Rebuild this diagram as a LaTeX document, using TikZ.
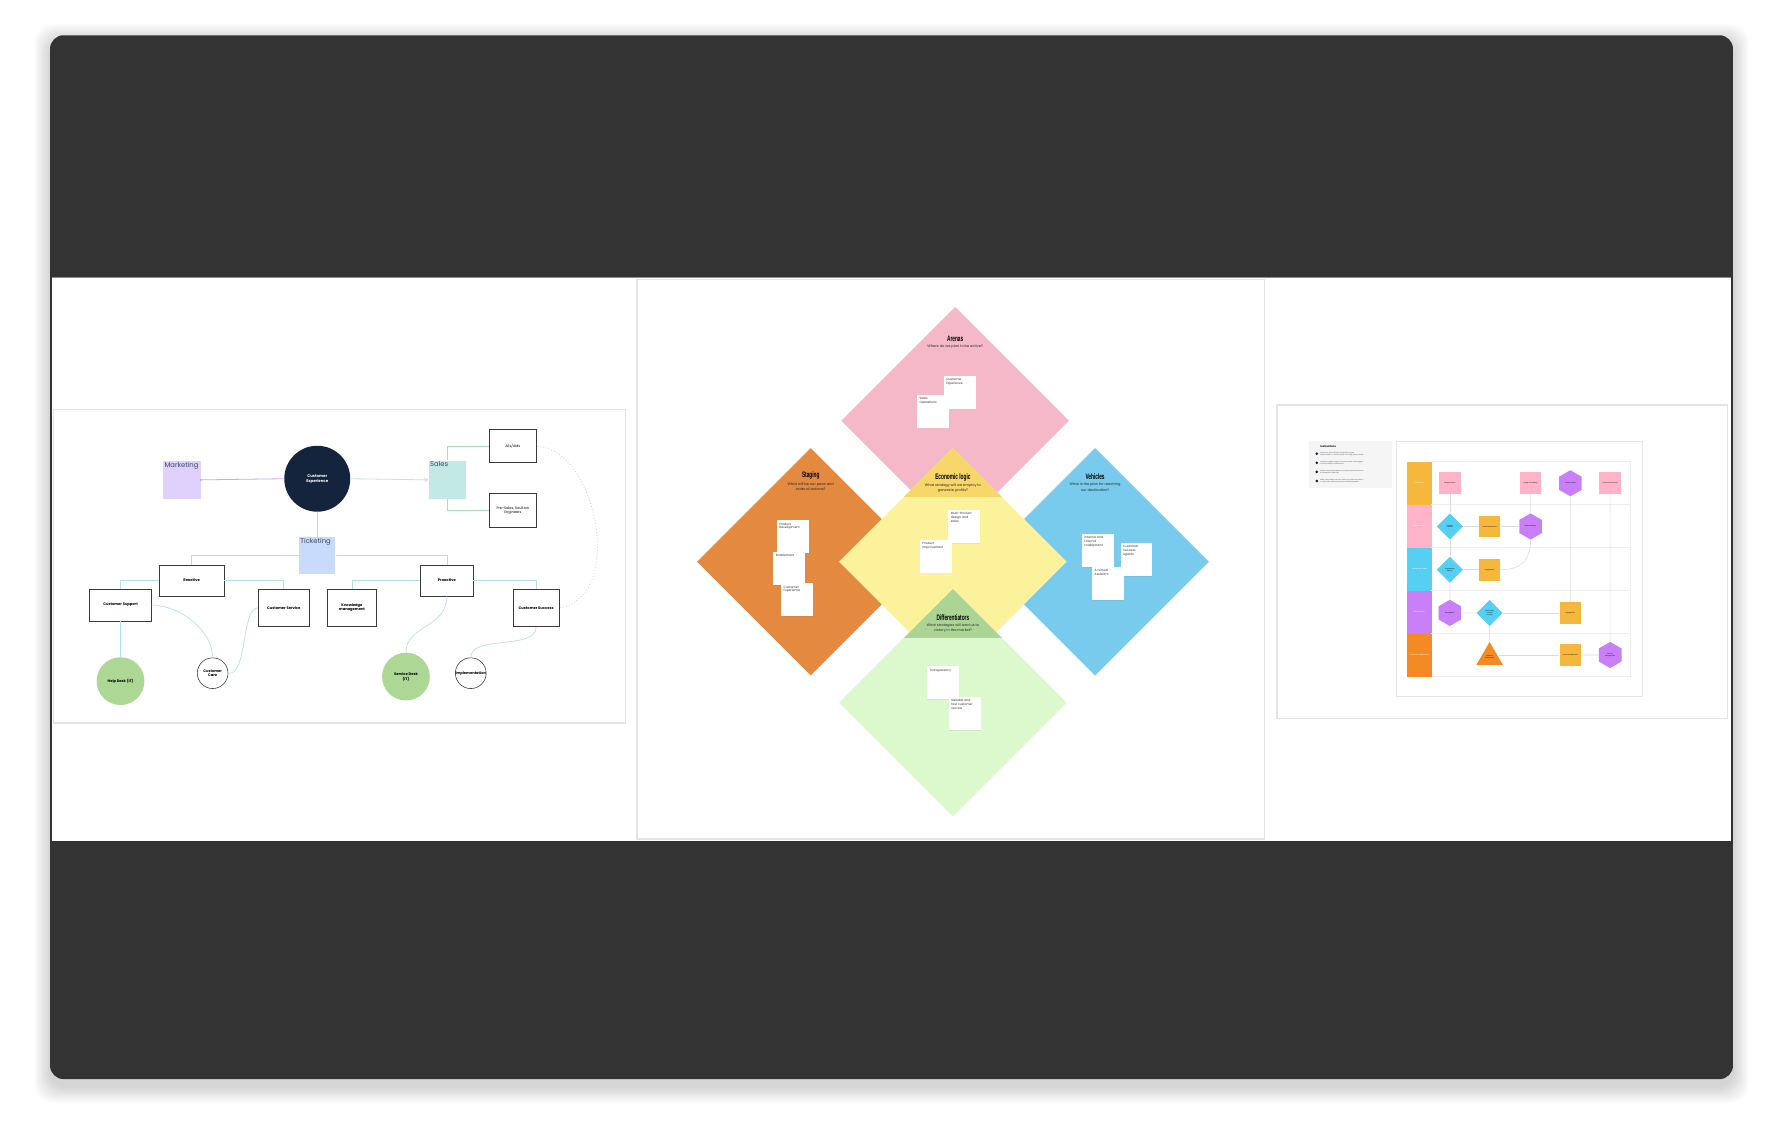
\documentclass[tikz,border=0pt]{standalone}
\usepackage{fontspec}
\setmainfont{Poppins}
\newfontfamily\headfont[FakeStretch=0.6]{Liberation Sans}
\usetikzlibrary{positioning, shapes.geometric, shadows}
\definecolor{frame}{HTML}{333333}
\definecolor{pborder}{HTML}{E4E4E4}
\definecolor{navy}{HTML}{14243C}
\definecolor{lavender}{HTML}{E0D0FC}
\definecolor{lavline}{HTML}{C9A8F6}
\definecolor{teal}{HTML}{C2E9E6}
\definecolor{tealline}{HTML}{BDE6E2}
\definecolor{salesline}{HTML}{A9DFBD}
\definecolor{tickblue}{HTML}{C8DBFC}
\definecolor{treeblue}{HTML}{B3DFF2}
\definecolor{leaf}{HTML}{ACD794}
\definecolor{tiletext}{HTML}{3B4A6B}
\definecolor{boxline}{HTML}{3A3A3A}
\definecolor{arena}{HTML}{F4B8C9}
\definecolor{staging}{HTML}{E38A40}
\definecolor{vehicle}{HTML}{79CBEE}
\definecolor{econ}{HTML}{FDF29C}
\definecolor{econtop}{HTML}{F7D66A}
\definecolor{diff}{HTML}{DCF8CD}
\definecolor{difftop}{HTML}{ACD595}
\definecolor{laneA}{HTML}{F5B83D}
\definecolor{laneB}{HTML}{FFB3C8}
\definecolor{laneC}{HTML}{55D0F2}
\definecolor{laneD}{HTML}{C97FF8}
\definecolor{laneE}{HTML}{F38A24}

% sticky note: name, position, text
\newcommand\sticky[3]{\node[note] (#1) at (#2) {};
  \node[notetxt] (#1t) at (#1.north west) {#3};}

\begin{document}
\begin{tikzpicture}[x=1pt, y=-1pt,
  box/.style={draw=boxline, fill=white, line width=.6pt, align=center, inner sep=1pt,
    font=\fontsize{3.2}{4.1}\selectfont\bfseries},
  tile/.style={minimum width=33pt, minimum height=34pt, inner sep=0pt},
  tilelbl/.style={anchor=north west, inner sep=1.2pt, text=tiletext, font=\fontsize{6}{7}\selectfont},
  tline/.style={draw=treeblue, line width=.6pt},
  leafnode/.style={circle, fill=leaf, minimum size=42pt, inner sep=0pt, align=center,
    font=\fontsize{3.2}{4.1}\selectfont\bfseries},
  ring/.style={circle, draw=boxline, fill=white, line width=.5pt, minimum size=27pt, inner sep=0pt,
    align=center, font=\fontsize{3.2}{4.1}\selectfont\bfseries},
  note/.style={rectangle, fill=white, minimum width=28pt, minimum height=29pt, inner sep=0pt,
    drop shadow={opacity=.12, shadow xshift=0pt, shadow yshift=-.6pt}},
  notetxt/.style={anchor=north west, align=left, inner sep=2.2pt, text=black!80,
    font=\fontsize{2.7}{3.4}\selectfont},
  ttl/.style={inner sep=0pt, font=\headfont\bfseries\fontsize{7}{8}\selectfont},
  sub/.style={inner sep=0pt, align=center, text=black!85, font=\fontsize{3.1}{4.5}\selectfont},
  lanehd/.style={minimum width=22pt, minimum height=37.8pt, inner sep=0pt, text=white,
    font=\fontsize{1.6}{2}\selectfont},
  rowline/.style={draw=black!7, line width=.4pt},
  fl/.style={draw=black!14, line width=.5pt},
  fsq/.style={minimum size=19pt, inner sep=0pt, align=center, font=\fontsize{1.3}{1.6}\selectfont},
  fhex/.style={regular polygon, regular polygon sides=6, shape border rotate=30, minimum size=23pt,
    fill=laneD, inner sep=0pt, align=center, font=\fontsize{1.3}{1.6}\selectfont},
  fdia/.style={diamond, aspect=1, minimum size=23pt, fill=laneC, inner sep=0pt, align=center,
    font=\fontsize{1.3}{1.6}\selectfont},
  ftri/.style={regular polygon, regular polygon sides=3, minimum size=27pt, fill=laneE, inner sep=0pt,
    align=center, font=\fontsize{1.2}{1.5}\selectfont}]
\useasboundingbox (0,0) rectangle (1568,1007);
% shadow and dark frame
\foreach \i in {1,...,14}
  \fill[black, opacity=.011, rounded corners=16pt] (44-\i,31-\i+4) rectangle (1524+\i,949+\i+7);
\fill[frame, rounded corners=12pt] (44,31) rectangle (1524,949);
\fill[white] (46,244) rectangle (1522,740);
\draw[black!45, line width=.6pt] (46,244) -- (1522,244);

% ---- panel 1 ----
\draw[pborder, line width=1.3pt] (47,360) rectangle (550,636);
\node[circle, fill=navy, minimum size=58pt, inner sep=0pt, text=white, align=center,
  font=\fontsize{3.4}{4.4}\selectfont\bfseries] (cx) at (279,421) {Customer\\Experience};
\node[tile, fill=lavender] (mkt) at (160,422) {};
\node[tilelbl] (mktL) at (mkt.north west) {Marketing};
\node[tile, fill=teal] (sales) at (393.5,422) {};
\node[tilelbl] (salesL) at (sales.north west) {Sales};
\node[tile, fill=tickblue, minimum width=32pt, minimum height=33pt] (tix) at (279,488.5) {};
\node[tilelbl] (tixL) at (tix.north west) {Ticketing};
\node[box, font=\fontsize{3.1}{4}\selectfont, minimum width=42pt, minimum height=29pt] (aes) at (451,392.5) {AEs/AMs};
\node[box, font=\fontsize{3.1}{4}\selectfont, minimum width=42pt, minimum height=30pt] (pre) at (451,449) {Pre-Sales, Soultion\\Engineers};
\node[box, minimum width=57pt, minimum height=27pt] (react) at (168.5,510.5) {Reactive};
\node[box, minimum width=46pt, minimum height=27pt] (pro) at (393,510.5) {Proactive};
\node[box, minimum width=54pt, minimum height=28pt] (csup) at (106,532) {Customer Support};
\node[box, minimum width=45pt, minimum height=33pt] (cserv) at (249.5,534.5) {Customer Service};
\node[box, minimum width=43pt, minimum height=33pt] (know) at (309.5,534.5) {Knowledge\\management};
\node[box, minimum width=41pt, minimum height=33pt] (csucc) at (471.5,534.5) {Customer Success};
\node[leafnode] (help) at (106,599) {Help Desk (IT)};
\node[ring] (care) at (187,592) {Customer\\Care};
\node[leafnode] (sdesk) at (357,595) {Service Desk\\(IT)};
\node[ring] (impl) at (414,592) {Implementation};

\draw[lavline, line width=.7pt] (cx.west) -- (mkt.east);
\fill[lavline] (mkt.east) circle (1pt);
\draw[tealline, line width=.7pt, ->, >=stealth] (cx.east) -- (sales.west);
\draw[salesline, line width=.6pt] (sales.north) |- (aes.west);
\draw[salesline, line width=.6pt] (sales.south) |- (pre.west);
\draw[tline] (cx.south) -- (tix.north);
\draw[tline] (tix.west) -| (react.north);
\draw[tline] (tix.east) -| (pro.north);
\draw[tline] (react.west) -| (csup.north);
\draw[tline] (react.east) -| (cserv.north);
\draw[tline] (pro.west) -| (know.north);
\draw[tline] (pro.east) -| (csucc.north);
\draw[tline] (csup.south) -- (help.north);
\draw[tline] (csup.east) .. controls (160,533) and (187,555) .. (care.north);
\draw[tline] (cserv.west) .. controls (212,535) and (218,594) .. (care.east);
\draw[tline] (pro.south) .. controls (393,552) and (357,550) .. (sdesk.north);
\draw[tline] (csucc.south) .. controls (471.5,572) and (414,558) .. (impl.north);
\draw[black!25, line width=.6pt, dotted] (aes.east) .. controls (525,395) and (550,525) .. (csucc.east);

% ---- panel 2 ----
\draw[pborder, line width=1.3pt] (560,246) rectangle (1112,738);
\fill[arena] (840,270) -- (940,370) -- (840,470) -- (740,370) -- cycle;
\fill[staging] (713,394) -- (813,494) -- (713,594) -- (613,494) -- cycle;
\fill[vehicle] (963,394) -- (1063,494) -- (963,594) -- (863,494) -- cycle;
\fill[econ] (838,394) -- (938,494) -- (838,594) -- (738,494) -- cycle;
\fill[econtop] (838,394) -- (881,437) -- (795,437) -- cycle;
\fill[diff] (838,518) -- (938,618) -- (838,718) -- (738,618) -- cycle;
\fill[difftop] (838,518) -- (881,561) -- (795,561) -- cycle;

\node[ttl] (arenasT) at (840,298) {Arenas};
\node[sub, below=2.5pt of arenasT] (arenasS) {Where do we plan to be active?};
\node[ttl] (stagT) at (713,418.5) {Staging};
\node[sub, below=2.5pt of stagT] (stagS) {What will be our pace and\\order of actions?};
\node[ttl] (econT) at (838,419.5) {Economic logic};
\node[sub, below=2.5pt of econT] (econS) {What strategy will we employ to\\generate profits?};
\node[ttl] (vehT) at (963,419.5) {Vehicles};
\node[sub, below=2.5pt of vehT] (vehS) {What is the plan for reaching\\our destination?};
\node[ttl] (diffT) at (838,543) {Differentiators};
\node[sub, below=2.5pt of diffT] (diffS) {What strategies will lead us to\\victory in the market?};

\sticky{sops}{820.5,361.5}{Sales\\Operations}
\sticky{acx}{844,345}{Customer\\Experience}
\sticky{pdev}{697,472}{Product\\Development}
\sticky{enab}{694,500}{Enablement}
\sticky{scx}{701,527.5}{Customer\\Experience}
\sticky{mprod}{848,463}{Multi-Product\\design and\\sales}
\sticky{pimp}{823,489}{Product\\Improvement}
\sticky{iee}{965.5,484}{Internal and\\External\\Enablement}
\sticky{csa}{999.5,492}{Customer\\Success\\Agents}
\sticky{aiva}{974.5,513}{AI Virtual\\Assistant}
\sticky{trans}{829.5,600.5}{Transparency}
\sticky{relf}{848.5,627.5}{Reliable and\\fast customer\\service}

% ---- panel 3 ----
\draw[pborder, line width=1.3pt] (1123,356) rectangle (1519,632);
\fill[black!4] (1151,388) rectangle (1224,429);
\node[anchor=west, inner sep=0pt, font=\fontsize{2.2}{2.6}\selectfont\bfseries] (instr) at (1161,393) {Instructions};
\foreach \y/\t [count=\i] in {
  399/{Determine which divisions or identities require\\representation on the flow chart and assign them a shape.},
  407/{Identify the beginning point of your process. What triggers\\a chain of tasks or interactions?},
  415/{Keep incorporating steps into your process until you reach\\the endpoint or final step.},
  423/{Make sure to keep your flow chart up-to-date and utilize it\\in conjunction with other process-related templates.}} {
  \fill[navy] (1158,\y) circle (1.3pt);
  \node[anchor=west, inner sep=0pt, align=left, text=black!75, font=\fontsize{1.3}{1.7}\selectfont] (ins\i) at (1161,\y) {\t};
}
\draw[black!10, fill=white, line width=.5pt] (1228,388) rectangle (1444,612);
\foreach \y/\c/\t [count=\i] in {406/laneA/Customer, 443.8/laneB/Design Team, 481.6/laneC/Marketing Team,
  519.4/laneD/Sales Team, 557.2/laneE/Customer Experience} {
  \draw[rowline] (1259,\y) rectangle (1434,\y+37.8);
  \node[lanehd, fill=\c] (lane\i) at (1248,\y+18.9) {\t};
}
\node[fsq, fill=laneB] (dp) at (1275,425) {Design Process};
\node[fsq, fill=laneB] (dsch) at (1346,425) {Design scheduling};
\node[fhex] (ic) at (1381,425) {Initial Contact};
\node[fsq, fill=laneB] (idsg) at (1416,425) {Instructional Design};
\node[fdia] (nc) at (1275,463) {Needed\\Content};
\node[fsq, fill=laneA] (na) at (1310,463) {Needs Assessment};
\node[fhex] (md) at (1346,463) {Material Design};
\node[fdia] (em) at (1275,501) {Engagement\\Metrics};
\node[fsq, fill=laneA] (eg) at (1310,501) {Engagement};
\node[fhex] (dm) at (1275,539) {Data Metrics};
\node[fdia] (ac) at (1310,539) {Automated\\Content\\Change};
\node[fsq, fill=laneA] (eg2) at (1381,539) {Engagement};
\node[ftri] (mdev) at (1310,578) {Material\\Development};
\node[fsq, fill=laneA] (cxp) at (1381,576) {Customer Experience};
\node[fhex] (am) at (1416,576) {Account\\Management};

\draw[fl] (dp) -- (nc);
\draw[fl] (nc) -- (em);
\draw[fl] (em) -- (dm);
\draw[fl] (nc) -- (na);
\draw[fl] (na) -- (md);
\draw[fl] (md) -- (dsch);
\draw[fl] (em) -- (eg);
\draw[fl] (eg.east) .. controls (1340,501) and (1346,490) .. (md.south);
\draw[fl] (ic) -- (eg2);
\draw[fl] (dm) -- (ac);
\draw[fl] (ac) -- (eg2);
\draw[fl] (ac) -- (mdev);
\draw[fl] (mdev.east |- cxp) -- (cxp);
\draw[fl] (cxp) -- (am);
\draw[fl] (idsg) -- (am);
\end{tikzpicture}
\end{document}
